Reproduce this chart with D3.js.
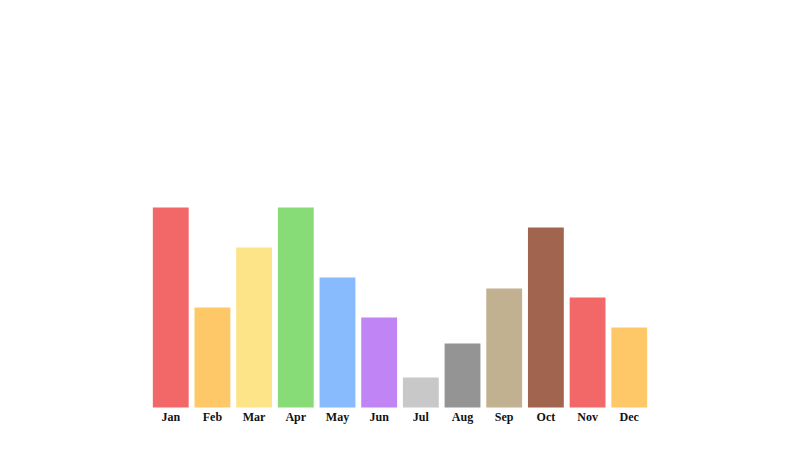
<!DOCTYPE html>
<html>
<head>
<meta charset="utf-8">
<script src="https://cdn.jsdelivr.net/npm/d3@7"></script>
<style>
  body { margin: 0; background: #fff; }
  .monthLabel { font-family: "Liberation Serif", "Times New Roman", serif; font-weight: bold; font-size: 12px; fill: #111; }
</style>
</head>
<body>
<div id="chart"></div>
<script>
// monthly values and bar colours
var months = ["Jan", "Feb", "Mar", "Apr", "May", "Jun", "Jul", "Aug", "Sep", "Oct", "Nov", "Dec"];
var values = [200, 100, 160, 200, 130, 90, 30, 64, 119, 180, 110, 80];
var colors = ["#f26868", "#fec868", "#fee488", "#88dc78", "#88bafe", "#c084f4",
              "#c8c8c8", "#949494", "#c2b190", "#a0644f", "#f26868", "#fec868"];

var width = 800, height = 450;

var svg = d3.select("#chart").append("svg")
    .attr("width", width)
    .attr("height", height);

var x = d3.scaleBand()
    .domain(months)
    .range([147, 653])
    .padding(0.14);

var y = d3.scaleLinear()
    .domain([0, 200])
    .range([407.5, 207.5]);

// bars
svg.selectAll(".bar")
    .data(months)
    .enter()
    .append("rect")
    .attr("class", "bar")
    .attr("x", function (d) { return x(d); })
    .attr("y", function (d, i) { return y(values[i]); })
    .attr("width", x.bandwidth())
    .attr("height", function (d, i) { return y(0) - y(values[i]); })
    .attr("fill", function (d, i) { return colors[i]; });

// month labels under each bar
svg.selectAll(".monthLabel")
    .data(months)
    .enter()
    .append("text")
    .attr("class", "monthLabel")
    .attr("x", function (d) { return x(d) + x.bandwidth() / 2; })
    .attr("y", 421)
    .attr("text-anchor", "middle")
    .text(function (d) { return d; });
</script>
</body>
</html>
